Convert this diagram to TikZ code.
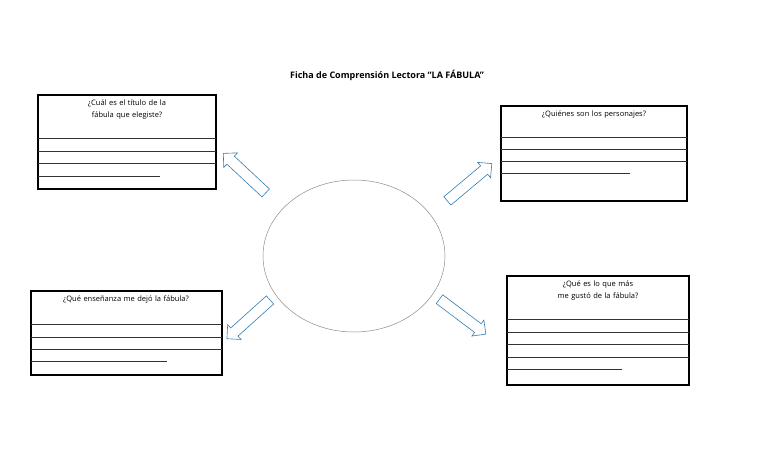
\documentclass[tikz,border=0pt]{standalone}
\usepackage{fontspec}
\setmainfont{Open Sans}
\usetikzlibrary{shapes.arrows}
\begin{document}
\begin{tikzpicture}[x=1pt,y=-1pt,
  qbox/.style={draw=black,line width=1.6pt},
  rule/.style={draw=black!80,line width=0.6pt},
  qtext/.style={font=\fontsize{7.5}{12.5}\selectfont,align=center,text width=132pt,anchor=north},
  barrow/.style={single arrow,draw=blue!40!cyan!60!black!80,line width=0.6pt,minimum height=58pt,minimum width=20pt,single arrow head extend=4pt,inner sep=4.5pt}]
\useasboundingbox (0,0) rectangle (768,466);
\node[font=\bfseries\fontsize{9}{11}\selectfont] (title) at (387,75) {Ficha de Comprensión Lectora “LA FÁBULA”};
\draw[black!45,line width=0.5pt] (354,256) ellipse (91 and 76);
% TL
\draw[qbox] (38,95) rectangle (216,189);
\node[qtext] (tl) at (127,96) {¿Cuál es el título de la fábula que elegiste?};
\foreach \y in {138,151,163} \draw[rule] (38,\y) -- (216,\y);
\draw[rule] (38,176) -- (160,176);
% TR
\draw[qbox] (501,106) rectangle (687,201);
\node[qtext] (tr) at (594,107) {¿Quiénes son los personajes?};
\foreach \y in {137,149,161} \draw[rule] (501,\y) -- (687,\y);
\draw[rule] (501,173) -- (630,173);
% BL
\draw[qbox] (31,291) rectangle (222,375);
\node[qtext] (bl) at (126,292) {¿Qué enseñanza me dejó la fábula?};
\foreach \y in {324,337,349} \draw[rule] (31,\y) -- (222,\y);
\draw[rule] (31,361) -- (167,361);
% BR
\draw[qbox] (507,276) rectangle (689,385);
\node[qtext] (br) at (598,277) {¿Qué es lo que más me gustó de la fábula?};
\foreach \y in {319,332,344,357} \draw[rule] (507,\y) -- (689,\y);
\draw[rule] (507,369) -- (622,369);
% arrows
\node[barrow,rotate=137] (a1) at (246.5,175) {};
\node[barrow,rotate=40] (a2) at (467.5,184) {};
\node[barrow,rotate=222] (a3) at (250.5,317.5) {};
\node[barrow,rotate=-37] (a4) at (460.5,315) {};
\end{tikzpicture}
\end{document}
